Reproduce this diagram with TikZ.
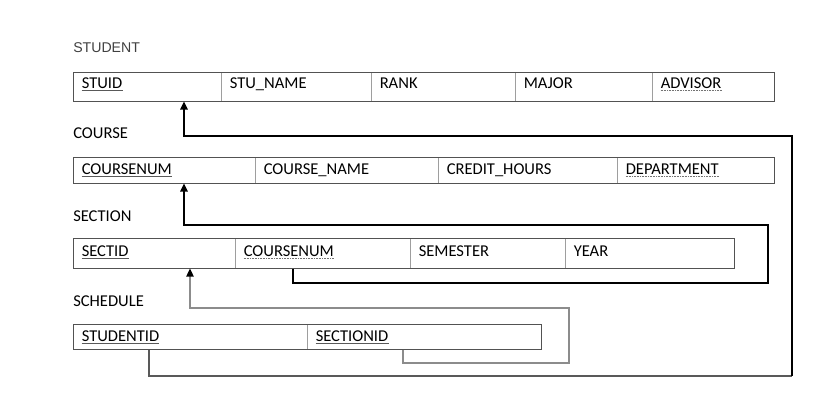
\documentclass[tikz,border=0pt]{standalone}
\usepackage{fontspec}
\setmainfont{Carlito}
\newfontfamily\arialf{Liberation Sans}
\usetikzlibrary{fit,arrows.meta}
\newcommand\myul[1]{\draw[ulsolid] ([yshift=-1.6pt]#1.base west) -- ([yshift=-1.6pt]#1.base east);}
\newcommand\mydotul[1]{\draw[uldot] ([yshift=-1.6pt]#1.base west) -- ([yshift=-1.6pt]#1.base east);}
\begin{document}
\begin{tikzpicture}[x=0.75pt,y=-0.75pt,
  cellbox/.style={draw=black!38, line width=0.75pt, inner sep=0pt, rectangle},
  tablebox/.style={draw=black!68, line width=0.75pt, inner sep=0pt, rectangle},
  txt/.style={anchor=base west, inner sep=0pt, font=\fontsize{12.4}{14}\selectfont},
  tlabel/.style={anchor=base west, inner sep=0pt, font=\fontsize{12.4}{14}\selectfont},
  slabel/.style={anchor=base west, inner sep=0pt, text=black!75, font=\arialf\fontsize{10.6}{12}\selectfont},
  ulsolid/.style={draw=black!65, line width=0.7pt},
  uldot/.style={draw=black!55, line width=0.6pt, dash pattern=on 0.6pt off 0.6pt},
  fkblack/.style={draw=black, line width=1.1pt},
  fkgray/.style={draw=black!45, line width=0.9pt},
  fkdark/.style={draw=black!65, line width=0.9pt},
  tip/.style={-{Triangle[length=6pt,width=5.5pt]}}
]
\useasboundingbox (0,0) rectangle (833,414);

% ---------- STUDENT ----------
\node[slabel] (lstudent) at (73,52) {STUDENT};
\node[cellbox, fit={(73,72)(221,101)}] (stuid) {};
\node[cellbox, fit={(221,72)(371,101)}] (stuname) {};
\node[cellbox, fit={(371,72)(515,101)}] (rank) {};
\node[cellbox, fit={(515,72)(652,101)}] (major) {};
\node[cellbox, fit={(652,72)(774,101)}] (advisor) {};
\node[tablebox, fit={(73,72)(774,101)}] (tstudent) {};
\node[txt] (xstuid) at (81.5,88.3) {STUID};
\node[txt] (xstuname) at (229.5,88.3) {STU\_NAME};
\node[txt] (xrank) at (379.5,88.3) {RANK};
\node[txt] (xmajor) at (523.5,88.3) {MAJOR};
\node[txt] (xadvisor) at (660.5,88.3) {ADVISOR};
\myul{xstuid}
\mydotul{xadvisor}

% ---------- COURSE ----------
\node[tlabel] (lcourse) at (73,138) {COURSE};
\node[cellbox, fit={(73,157)(255,183)}] (coursenum) {};
\node[cellbox, fit={(255,157)(438,183)}] (cname) {};
\node[cellbox, fit={(438,157)(617,183)}] (credit) {};
\node[cellbox, fit={(617,157)(774,183)}] (dept) {};
\node[tablebox, fit={(73,157)(774,183)}] (tcourse) {};
\node[txt] (xcoursenum) at (81.5,174.5) {COURSENUM};
\node[txt] (xcname) at (263.5,174.5) {COURSE\_NAME};
\node[txt] (xcredit) at (446.5,174.5) {CREDIT\_HOURS};
\node[txt] (xdept) at (625.5,174.5) {DEPARTMENT};
\myul{xcoursenum}
\mydotul{xdept}

% ---------- SECTION ----------
\node[tlabel] (lsection) at (73,221) {SECTION};
\node[cellbox, fit={(73,238)(235,268)}] (sectid) {};
\node[cellbox, fit={(235,238)(410,268)}] (scourse) {};
\node[cellbox, fit={(410,238)(565,268)}] (semester) {};
\node[cellbox, fit={(565,238)(734,268)}] (year) {};
\node[tablebox, fit={(73,238)(734,268)}] (tsection) {};
\node[txt] (xsectid) at (81.5,256) {SECTID};
\node[txt] (xscourse) at (243.5,256) {COURSENUM};
\node[txt] (xsemester) at (418.5,256) {SEMESTER};
\node[txt] (xyear) at (573.5,256) {YEAR};
\myul{xsectid}
\mydotul{xscourse}

% ---------- SCHEDULE ----------
\node[tlabel] (lschedule) at (73,306) {SCHEDULE};
\node[cellbox, fit={(73,324)(307,349)}] (studentid) {};
\node[cellbox, fit={(307,324)(541,349)}] (sectionid) {};
\node[tablebox, fit={(73,324)(541,349)}] (tschedule) {};
\node[txt] (xstudentid) at (81.5,341.7) {STUDENTID};
\node[txt] (xsectionid) at (315.5,341.7) {SECTIONID};
\myul{xstudentid}
\myul{xsectionid}

% ---------- connector anchors ----------
\coordinate (c149) at (149,0);
\coordinate (c293) at (293,0);
\coordinate (c403) at (403,0);
\coordinate (r1) at (792,376);
\coordinate (t1) at (184,136);
\coordinate (r2) at (768,283);
\coordinate (t2) at (184,225);
\coordinate (r3) at (569,363);
\coordinate (t3) at (190,308);

% SCHEDULE.STUDENTID -> STUDENT.STUID
\draw[fkdark] (studentid.south -| c149) |- (r1);
\draw[fkblack, tip] (r1) |- (t1) -- (t1 |- stuid.south);

% SECTION.COURSENUM -> COURSE.COURSENUM
\draw[fkblack, tip] (scourse.south -| c293) |- (r2) |- (t2) -- (t2 |- coursenum.south);

% SCHEDULE.SECTIONID -> SECTION.SECTID
\draw[fkgray] (sectionid.south -| c403) |- (r3) |- (t3) -- ([yshift=-3pt]t3 |- sectid.south);
\draw[fkgray, draw=black, tip] ([yshift=-3pt]t3 |- sectid.south) -- (t3 |- sectid.south);
\end{tikzpicture}
\end{document}
